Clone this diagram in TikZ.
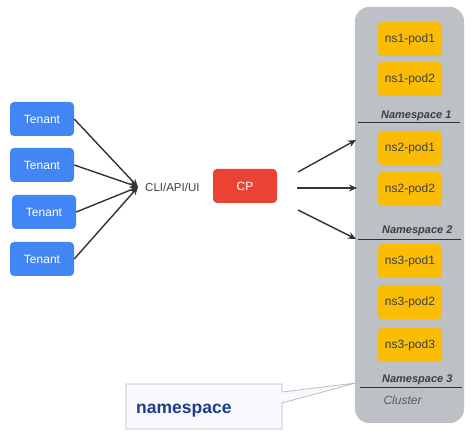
\documentclass[tikz,border=0pt]{standalone}
\usepackage{fontspec}
\setmainfont{Liberation Sans}
\usetikzlibrary{arrows.meta}

\definecolor{tenantblue}{HTML}{4285F4}
\definecolor{cpred}{HTML}{EA4335}
\definecolor{podyellow}{HTML}{FBBC04}
\definecolor{clustergray}{HTML}{BDC1C6}
\definecolor{podtext}{HTML}{3C4043}
\definecolor{calloutfill}{HTML}{F8F9FE}
\definecolor{calloutline}{HTML}{BDBDBD}
\definecolor{navy}{HTML}{1F3C88}
\definecolor{wire}{HTML}{333333}

\begin{document}
\begin{tikzpicture}[x=1pt,y=-1pt,
    box/.style={rounded corners=4pt, minimum width=64pt, minimum height=34pt,
        inner sep=0pt, font=\fontsize{12}{14}\selectfont},
    tenant/.style={box, fill=tenantblue, text=white},
    pod/.style={box, fill=podyellow, text=podtext},
    nslabel/.style={anchor=base east, font=\bfseries\itshape\fontsize{11}{13}\selectfont, text=podtext},
    wirearrow/.style={draw=wire, line width=1.4pt, -{Stealth[length=8pt,width=7pt]}}]
    \useasboundingbox (0,0) rectangle (474,443);

    % Cluster
    \fill[clustergray, rounded corners=14pt] (355,7) rectangle (464,423);

    % Pods of namespace 1
    \node[pod] (p11) at (410,39) {ns1-pod1};
    \node[pod] (p12) at (410,79) {ns1-pod2};
    \node[nslabel] (ns1) at (455,119) {Namespace 1};
    \draw[wire, line width=0.9pt] (358,122) -- (460,122);

    % Pods of namespace 2
    \node[pod] (p21) at (410,148) {ns2-pod1};
    \node[pod] (p22) at (410,189) {ns2-pod2};
    \node[nslabel] (ns2) at (456,234) {Namespace 2};
    \draw[wire, line width=0.9pt] (358,239) -- (461,239);

    % Pods of namespace 3
    \node[pod] (p31) at (410,261) {ns3-pod1};
    \node[pod] (p32) at (410,302) {ns3-pod2};
    \node[pod] (p33) at (410,345) {ns3-pod3};
    \node[nslabel] (ns3) at (456,383) {Namespace 3};
    \draw[wire, line width=0.9pt] (360,387) -- (462,387);
    \node[anchor=base west, font=\itshape\fontsize{12}{14}\selectfont, text=podtext!85] (cl) at (380,405) {Cluster};

    % Tenants
    \node[tenant] (t1) at (42,119) {Tenant};
    \node[tenant] (t2) at (42,165) {Tenant};
    \node[tenant] (t3) at (44,212) {Tenant};
    \node[tenant] (t4) at (42,259) {Tenant};

    % Entry point
    \coordinate (hub) at (138,187);
    \node[anchor=west, font=\fontsize{11.5}{14}\selectfont, text=podtext, inner sep=0pt] (cli) at (145,187) {CLI/API/UI};
    \draw[wirearrow] (t1.east) -- (hub);
    \draw[wirearrow] (t2.east) -- (hub);
    \draw[wirearrow] (t3.east) -- (hub);
    \draw[wirearrow] (t4.east) -- (hub);

    % Control plane
    \node[box, fill=cpred, text=white] (cp) at (245,186) {CP};
    \coordinate (o1) at (298,172);
    \coordinate (o2) at (297,188);
    \coordinate (o3) at (298,210);
    \coordinate (e1) at (356,140);
    \coordinate (e2) at (357,188);
    \coordinate (e3) at (356,239);
    \draw[wirearrow] (o1) -- (e1);
    \draw[wirearrow] (o2) -- (e2);
    \draw[wirearrow] (o3) -- (e3);

    % Callout
    \draw[calloutline, fill=calloutfill, line width=0.8pt]
        (126,384) -- (282,384) -- (282,392) -- (356,383) -- (282,403)
        -- (282,429) -- (126,429) -- cycle;
    \node[anchor=base west, font=\bfseries\fontsize{17.5}{20}\selectfont, text=navy, inner sep=0pt] (nsnote) at (136,414) {namespace};
\end{tikzpicture}
\end{document}
